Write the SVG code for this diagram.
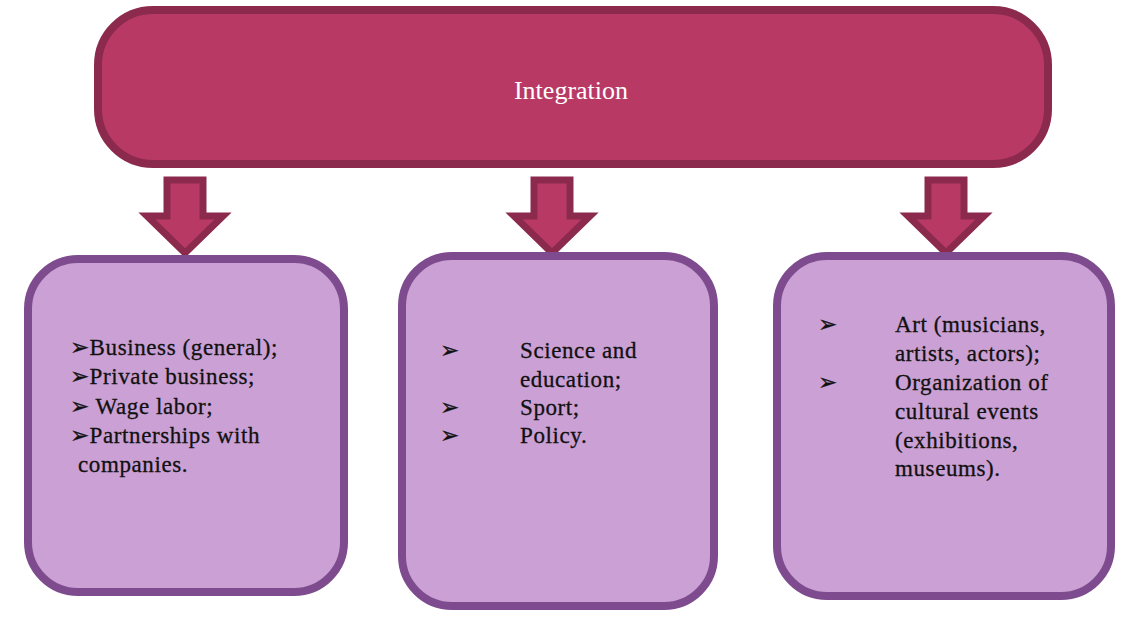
<svg xmlns="http://www.w3.org/2000/svg" width="1124" height="618" viewBox="0 0 1124 618">
<style>
.top{fill:#b83a64;stroke:#8b2a4c;stroke-width:8}
.box{fill:#cba0d4;stroke:#7d4b8e;stroke-width:8}
.arr{fill:#b83a64;stroke:#8b2a4c;stroke-width:7;stroke-linejoin:miter}
text{font-family:"Liberation Serif",serif;font-size:23px;letter-spacing:0.6px;fill:#111;stroke:#111;stroke-width:0.3}
.w{fill:#fff;stroke:none;font-size:26px;letter-spacing:0}
</style>
<rect width="1124" height="618" fill="#fff"/>
<g id="integration"><rect class="top" x="98" y="10" width="950" height="154" rx="55"/><text class="w" x="571" y="99" text-anchor="middle">Integration</text></g>
<g id="connectors">
<path class="arr" d="M167,180h36v36h20l-38,37l-38,-37h20z"/>
<path class="arr" d="M534,180h36v36h20l-38,37l-38,-37h20z"/>
<path class="arr" d="M928,180h36v36h20l-38,37l-38,-37h20z"/>
</g>
<g id="business"><rect class="box" x="28" y="259" width="316" height="333" rx="50"/>
<text x="70" y="355">➢Business (general);</text>
<text x="70" y="384">➢Private business;</text>
<text x="70" y="414">➢ Wage labor;</text>
<text x="70" y="443">➢Partnerships with</text>
<text x="78" y="472">companies.</text></g>
<g id="science"><rect class="box" x="402" y="256" width="312" height="350" rx="50"/>
<text x="440" y="358">➢</text><text x="520" y="358">Science and</text>
<text x="520" y="387">education;</text>
<text x="440" y="415">➢</text><text x="520" y="415">Sport;</text>
<text x="440" y="443">➢</text><text x="520" y="443">Policy.</text></g>
<g id="art"><rect class="box" x="777" y="256" width="334" height="340" rx="50"/>
<text x="818" y="332">➢</text><text x="895" y="332">Art (musicians,</text>
<text x="895" y="361">artists, actors);</text>
<text x="818" y="390">➢</text><text x="895" y="390">Organization of</text>
<text x="895" y="419">cultural events</text>
<text x="895" y="448">(exhibitions,</text>
<text x="895" y="476">museums).</text></g>
</svg>
